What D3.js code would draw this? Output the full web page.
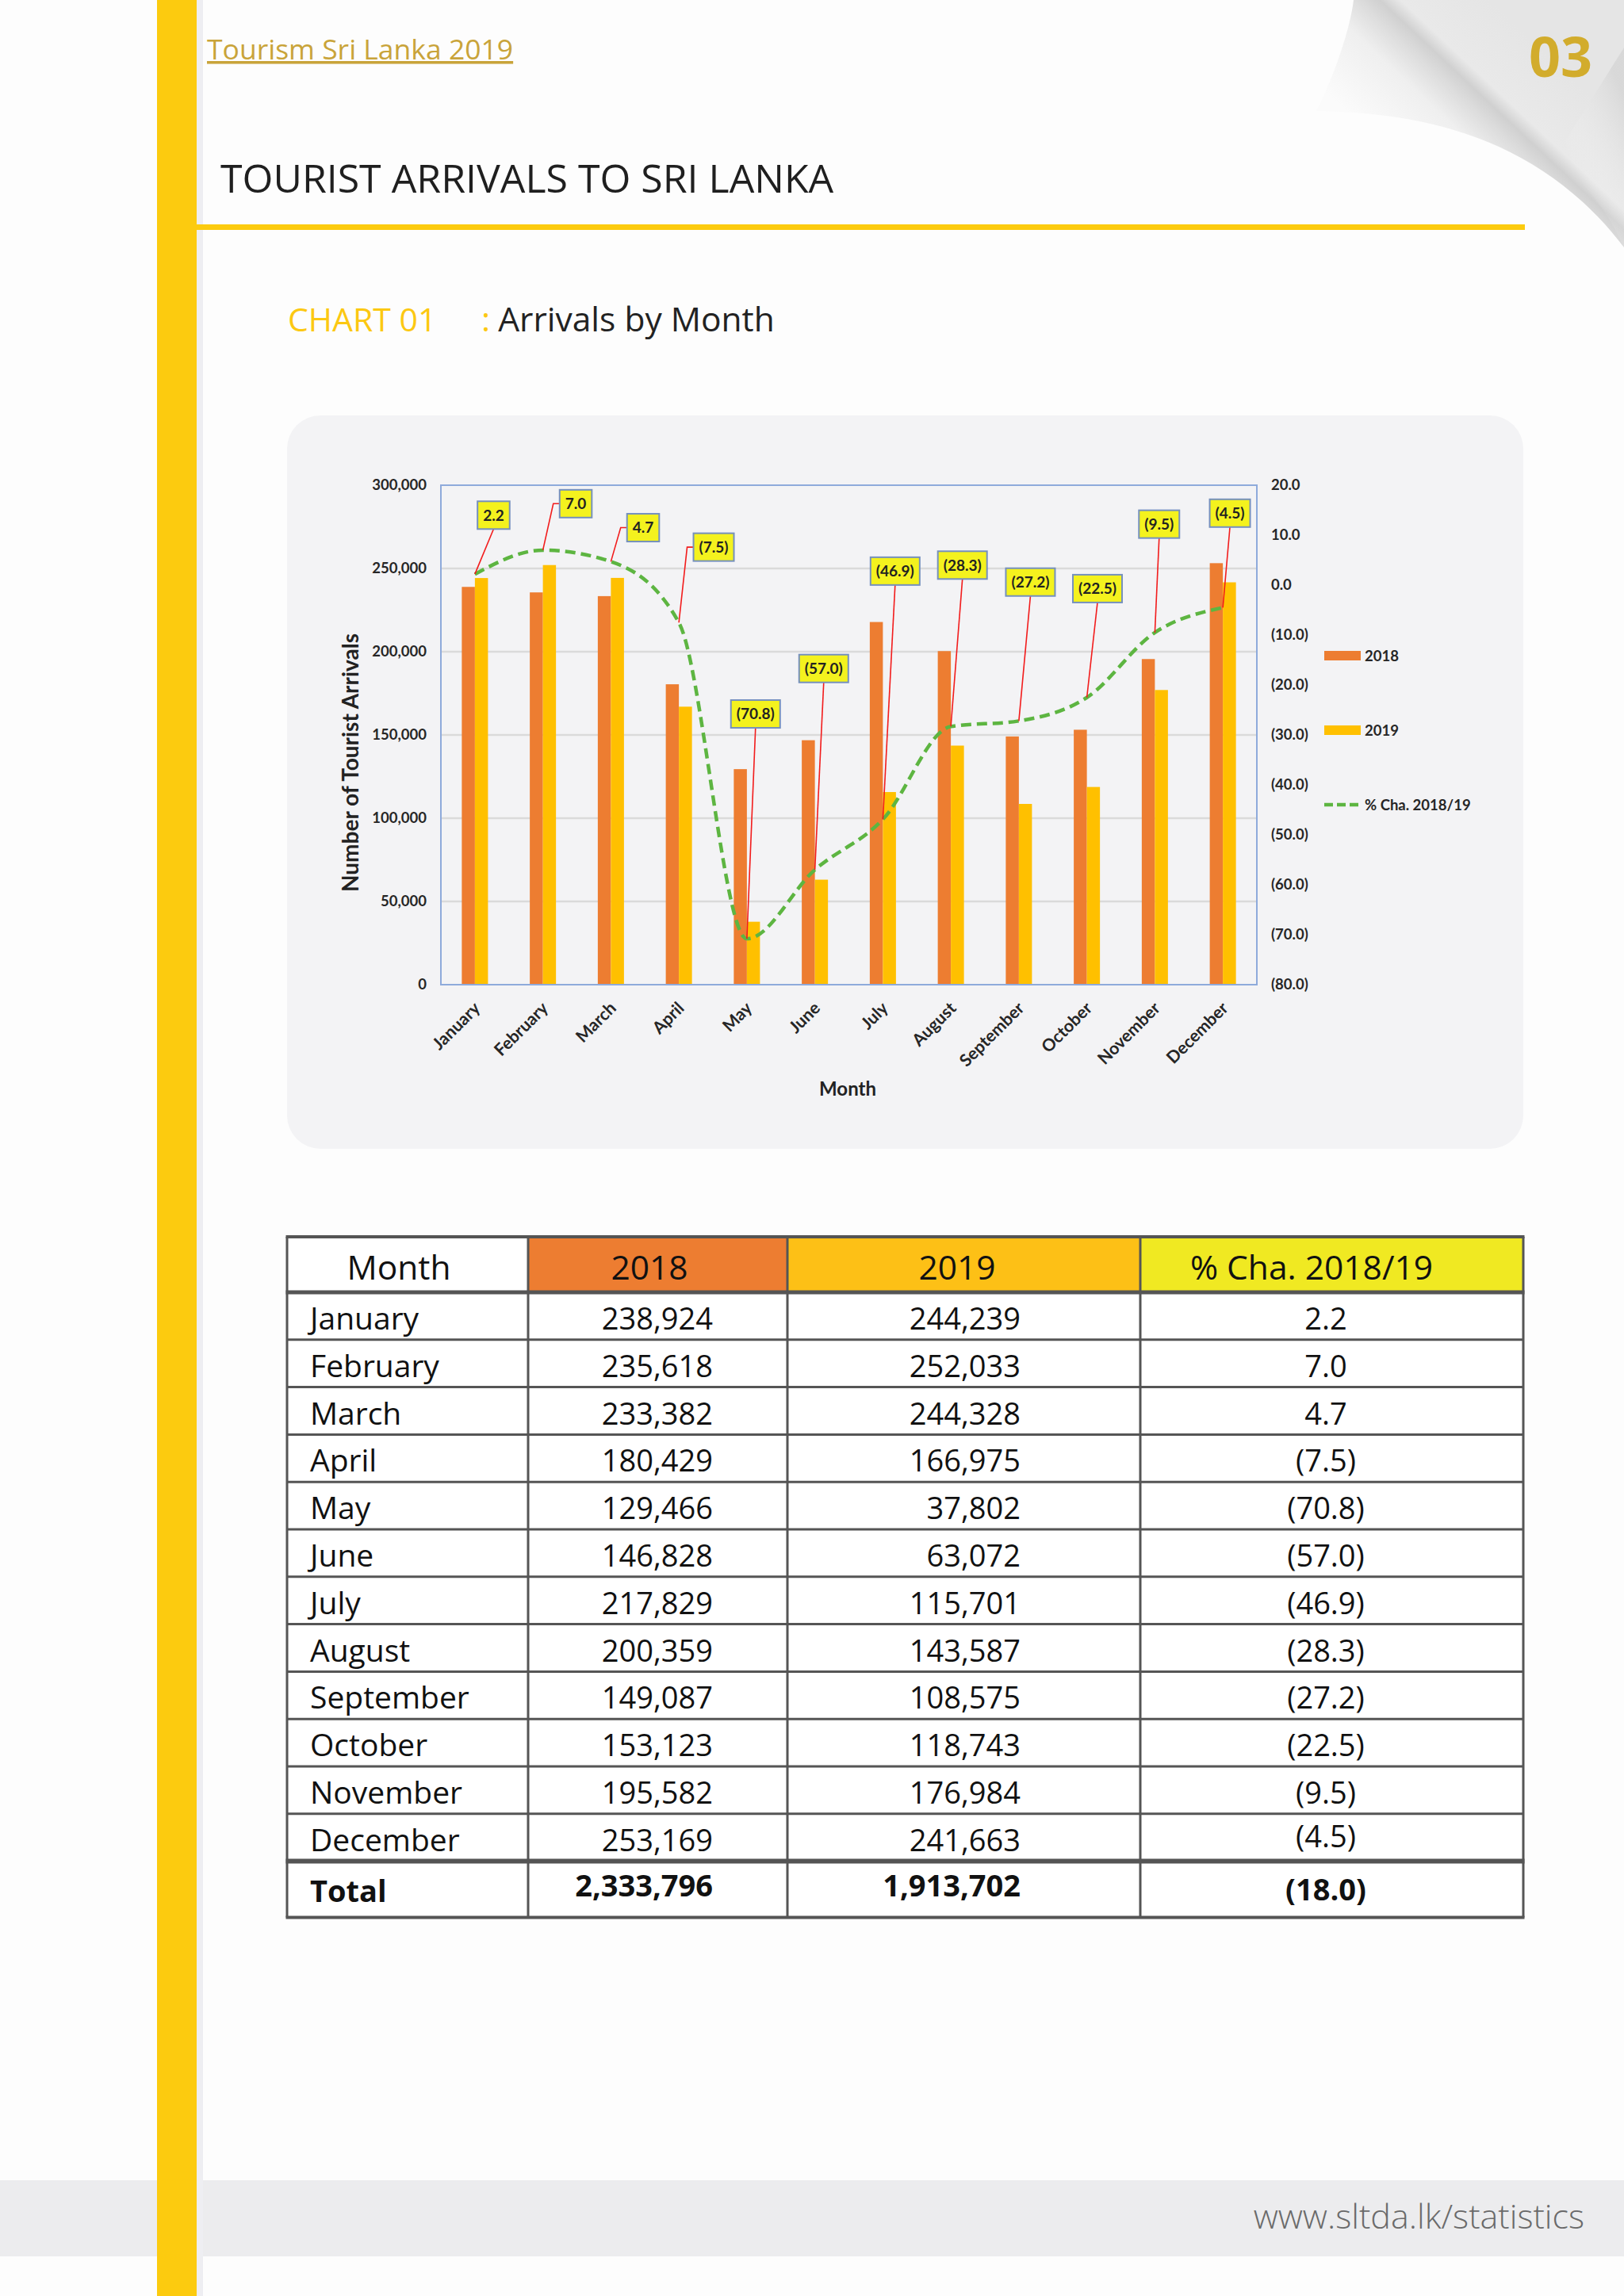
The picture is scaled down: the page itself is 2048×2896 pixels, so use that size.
<!DOCTYPE html>
<html><head><meta charset="utf-8">
<script src="https://cdn.jsdelivr.net/npm/d3@7"></script>
<style>
html,body{margin:0;padding:0;background:#fdfdfd;}
svg{display:block;}
</style></head><body>
<svg id="page" width="2048" height="2896"></svg>
<script>
// ---------------- DATA ----------------
const months = ["January","February","March","April","May","June","July","August","September","October","November","December"];
const series = ["2018","2019"];
const arrivals2018 = [238924,235618,233382,180429,129466,146828,217829,200359,149087,153123,195582,253169];
const arrivals2019 = [244239,252033,244328,166975,37802,63072,115701,143587,108575,118743,176984,241663];
const pctChange = [2.2,7.0,4.7,-7.5,-70.8,-57.0,-46.9,-28.3,-27.2,-22.5,-9.5,-4.5];
const leftTicks = [0,50000,100000,150000,200000,250000,300000];
const rightTicks = [20,10,0,-10,-20,-30,-40,-50,-60,-70,-80];
const lineName = "% Cha. 2018/19";
const tableHeader = ["Month","2018","2019","% Cha. 2018/19"];

// label placement (band offset fraction, % axis value) as set in the original chart
const labelBandOffset = [0.275,0.483,0.474,0.512,0.127,0.13,0.18,0.17,0.17,0.156,0.063,0.104];
const labelPctPos = [14.0,16.3,11.5,7.6,-25.8,-16.7,2.8,4.0,0.6,-0.7,12.2,14.4];

// ---------------- HELPERS ----------------
const svg = d3.select("#page");
const fmtPct = v => v < 0 ? "(" + (-v).toFixed(1) + ")" : v.toFixed(1);
const fmtNum = d3.format(",");
const C18 = "#ED7D31", C19 = "#FFC000", CLINE = "#5DB541";
const chartFont = "Lato, 'Open Sans', sans-serif";
const pageFont = "'Open Sans', 'Noto Sans', sans-serif";

// ---------------- PAGE DECOR ----------------
svg.append("rect").attr("width",2048).attr("height",2896).attr("fill","#fdfdfd");
// footer band
svg.append("rect").attr("x",0).attr("y",2750).attr("width",2048).attr("height",96).attr("fill","#ececee");
svg.append("text").attr("x",1998).attr("y",2811).attr("text-anchor","end")
  .attr("font-family",pageFont).attr("font-size",43).attr("font-weight",300).attr("fill","#6a6a6a")
  .text("www.sltda.lk/statistics");
// yellow vertical bar with faint shadow
svg.append("rect").attr("x",248).attr("y",0).attr("width",8).attr("height",2896).attr("fill","#eeeef2");
svg.append("rect").attr("x",198).attr("y",0).attr("width",50).attr("height",2896).attr("fill","#FCCB0F");

// page curl
const defs = svg.append("defs");
const g1 = defs.append("linearGradient").attr("id","curlG").attr("gradientUnits","userSpaceOnUse")
  .attr("x1",1745).attr("y1",185).attr("x2",1900).attr("y2",20);
[[0,"#fbfbfb"],[0.35,"#efefef"],[0.5,"#dcdcdc"],[0.58,"#d0d0d0"],[0.66,"#e9e9e9"],[1,"#e5e5e5"]]
  .forEach(s=>g1.append("stop").attr("offset",s[0]).attr("stop-color",s[1]));
const g2 = defs.append("linearGradient").attr("id","curlEdge").attr("gradientUnits","userSpaceOnUse")
  .attr("x1",1960).attr("y1",160).attr("x2",2048).attr("y2",120);
[[0,"#ffffff",0],[1,"#d0d0d0",0.6]].forEach(s=>g2.append("stop").attr("offset",s[0]).attr("stop-color",s[1]).attr("stop-opacity",s[2]));
svg.append("path").attr("d","M1707,0 C1703,35 1683,95 1660,140 C1790,142 1940,170 2048,312 L2048,0 Z").attr("fill","url(#curlG)");
svg.append("path").attr("d","M1960,200 C1995,225 2025,262 2048,312 L2048,60 Z").attr("fill","url(#curlEdge)");

svg.append("text").attr("x",2008).attr("y",97).attr("text-anchor","end")
  .attr("font-family",pageFont).attr("font-size",70).attr("font-weight",700).attr("fill","#D2AC2C").text("03");

// header
svg.append("text").attr("x",261).attr("y",75).attr("font-family",pageFont).attr("font-size",35.5)
  .attr("fill","#c9a43a").attr("text-decoration","underline").text("Tourism Sri Lanka 2019");
svg.append("text").attr("x",278).attr("y",243).attr("font-family",pageFont).attr("font-size",50)
  .attr("font-weight",500).attr("fill","#1f1f1f").text("TOURIST ARRIVALS TO SRI LANKA");
svg.append("rect").attr("x",248).attr("y",283).attr("width",1675).attr("height",7).attr("fill","#FCCB0F");
svg.append("text").attr("x",363).attr("y",418).attr("font-family",pageFont).attr("font-size",41)
  .attr("fill","#FCC812").text("CHART 01");
const sub = svg.append("text").attr("x",607).attr("y",418).attr("font-family",pageFont).attr("font-size",42.5)
  .attr("font-weight",500).attr("fill","#222");
sub.append("tspan").attr("fill","#FCC812").text(":");
sub.append("tspan").attr("dx",10).text("Arrivals by Month");

// ---------------- CHART ----------------
svg.append("rect").attr("x",362).attr("y",524).attr("width",1559).attr("height",925).attr("rx",42).attr("fill","#f3f3f5");

const plot = {l:556, r:1585, t:612, b:1242};
const x = d3.scaleBand().domain(months).range([plot.l, plot.r]);
const bw = x.bandwidth();
const xs = d3.scaleBand().domain(series).range([-16.5,16.5]);
const yL = d3.scaleLinear().domain([0,300000]).range([plot.b, plot.t]);
const yR = d3.scaleLinear().domain([-80,20]).range([plot.b, plot.t]);
const cx = m => x(m) + bw/2;

const chart = svg.append("g");
// gridlines
chart.append("g").selectAll("line").data(leftTicks.filter(d=>d>0 && d<300000)).join("line")
  .attr("x1",plot.l).attr("x2",plot.r).attr("y1",d=>yL(d)).attr("y2",d=>yL(d))
  .attr("stroke","#dadada").attr("stroke-width",2.5);

// bars
const barData = months.map((m,i)=>[{m,s:"2018",v:arrivals2018[i]},{m,s:"2019",v:arrivals2019[i]}]).flat();
chart.append("g").selectAll("rect").data(barData).join("rect")
  .attr("x",d=>cx(d.m)+xs(d.s)).attr("width",xs.bandwidth())
  .attr("y",d=>yL(d.v)).attr("height",d=>yL(0)-yL(d.v))
  .attr("fill",d=>d.s==="2018"?C18:C19);

// plot border
chart.append("rect").attr("x",plot.l).attr("y",plot.t).attr("width",plot.r-plot.l).attr("height",plot.b-plot.t)
  .attr("fill","none").attr("stroke","#8eaadb").attr("stroke-width",2);

// axes
const axL = chart.append("g").attr("transform",`translate(${plot.l},0)`)
  .call(d3.axisLeft(yL).tickValues(leftTicks).tickSize(0).tickPadding(18).tickFormat(fmtNum));
const axR = chart.append("g").attr("transform",`translate(${plot.r},0)`)
  .call(d3.axisRight(yR).tickValues(rightTicks).tickSize(0).tickPadding(18).tickFormat(fmtPct));
const axB = chart.append("g").attr("transform",`translate(0,${plot.b})`)
  .call(d3.axisBottom(x).tickSize(0));
[axL,axR,axB].forEach(a=>{a.select(".domain").remove();
  a.selectAll("text").attr("font-family",chartFont).attr("font-size",18.5).attr("font-weight",700).attr("fill","#262626");});
axB.selectAll(".tick text").attr("x",0).attr("y",0).attr("dy",0).attr("text-anchor","end")
  .attr("transform","translate(8,31) rotate(-45)").attr("font-size",21.5);

// axis titles
chart.append("text").attr("transform","translate(452,962) rotate(-90)").attr("text-anchor","middle")
  .attr("font-family",chartFont).attr("font-size",28).attr("font-weight",700).attr("fill","#222")
  .text("Number of Tourist Arrivals");
chart.append("text").attr("x",1069).attr("y",1382).attr("text-anchor","middle")
  .attr("font-family",chartFont).attr("font-size",24).attr("font-weight",700).attr("fill","#222").text("Month");

// line
const lineGen = d3.line().x((d,i)=>cx(months[i])).y(d=>yR(d)).curve(d3.curveMonotoneX);
chart.append("path").datum(pctChange).attr("d",lineGen).attr("fill","none")
  .attr("stroke",CLINE).attr("stroke-width",4.5).attr("stroke-dasharray","13,7");

// data labels with leaders
const lab = chart.append("g");
const labelData = months.map((m,i)=>({m, v:pctChange[i], px:cx(m), py:yR(pctChange[i]),
  lx:cx(m)+labelBandOffset[i]*bw, ly:yR(labelPctPos[i])}));
const leaderG = lab.append("g"), boxG = lab.append("g");
labelData.forEach(d=>{
  const g = boxG.append("g");
  const rect = g.append("rect");
  const t = g.append("text").attr("x",d.lx).attr("y",d.ly).attr("dy","0.36em").attr("text-anchor","middle")
    .attr("font-family",chartFont).attr("font-size",19).attr("font-weight",700).attr("fill","#222").text(fmtPct(d.v));
  const w = t.node().getComputedTextLength() + 14, h = 35;
  const left = d.lx - w/2;
  rect.attr("x",left).attr("y",d.ly-h/2).attr("width",w).attr("height",h)
    .attr("fill","#F4F21E").attr("stroke","#7590bd").attr("stroke-width",2);
  let pts;
  if (d.px < left - 5) pts = [[d.px,d.py],[left-8,d.ly],[left,d.ly]];
  else pts = [[d.px,d.py],[d.lx,d.ly+h/2]];
  leaderG.append("path").attr("d",d3.line()(pts)).attr("fill","none").attr("stroke","#f21c1c").attr("stroke-width",1.6);
});

// legend
const leg = chart.append("g");
const legItems = [{k:"2018",y:827},{k:"2019",y:921},{k:lineName,y:1015}];
legItems.forEach(it=>{
  if (it.k===lineName) leg.append("line").attr("x1",1670).attr("x2",1716).attr("y1",it.y).attr("y2",it.y)
    .attr("stroke",CLINE).attr("stroke-width",4.5).attr("stroke-dasharray","11,5");
  else leg.append("rect").attr("x",1670).attr("y",it.y-6).attr("width",46).attr("height",12).attr("fill",it.k==="2018"?C18:C19);
  leg.append("text").attr("x",1721).attr("y",it.y).attr("dy","0.36em").attr("font-family",chartFont)
    .attr("font-size",18.5).attr("font-weight",700).attr("fill","#262626").text(it.k);
});

// ---------------- TABLE ----------------
const colX = [362,666,993,1438,1921];
const headTop = 1560, headBot = 1630, rowH = 59.8, totTop = headBot + rowH*12, totBot = totTop + 71;
const headFill = ["#ffffff", C18, "#FDC016", "#F0E922"];
const headCenter = [503, 819, 1207, 1654];
const tbl = svg.append("g").attr("font-family",pageFont);
tbl.append("rect").attr("x",colX[0]).attr("y",headTop).attr("width",colX[4]-colX[0]).attr("height",totBot-headTop).attr("fill","#ffffff");
tableHeader.forEach((h,i)=>{
  tbl.append("rect").attr("x",colX[i]).attr("y",headTop).attr("width",colX[i+1]-colX[i]).attr("height",headBot-headTop).attr("fill",headFill[i]);
  tbl.append("text").attr("x",headCenter[i]).attr("y",1614).attr("text-anchor","middle")
    .attr("font-size",42.5).attr("font-weight",500).attr("fill","#111").text(h);
});
const rows = months.map((m,i)=>[m, fmtNum(arrivals2018[i]), fmtNum(arrivals2019[i]), fmtPct(pctChange[i])]);
const sum18 = d3.sum(arrivals2018), sum19 = d3.sum(arrivals2019);
const totalRow = ["Total", fmtNum(sum18), fmtNum(sum19), fmtPct(Math.round((sum19/sum18-1)*1000)/10)];
const cellX = [391, 899, 1287, 1672];
const anchors = ["start","end","end","middle"];
rows.forEach((r,ri)=>{
  const base = headBot + ri*rowH + 47;
  r.forEach((c,ci)=>{
    tbl.append("text").attr("x",cellX[ci]).attr("y",base - (ri===11&&ci===3?5:0)).attr("text-anchor",anchors[ci])
      .attr("font-size",ci===0?39:38).attr("font-weight",ci===0?500:400).attr("fill","#111").text(c);
  });
});
totalRow.forEach((c,ci)=>{
  tbl.append("text").attr("x",cellX[ci]).attr("y",ci===0?2399:(ci===3?2397:2392)).attr("text-anchor",anchors[ci])
    .attr("font-size",38).attr("font-weight",700).attr("fill","#111").text(c);
});
// grid lines
const lc = "#555";
for (let i=1;i<12;i++) tbl.append("line").attr("x1",colX[0]).attr("x2",colX[4])
  .attr("y1",headBot+i*rowH).attr("y2",headBot+i*rowH).attr("stroke",lc).attr("stroke-width",3);
colX.forEach(cxv=>tbl.append("line").attr("x1",cxv).attr("x2",cxv).attr("y1",headTop).attr("y2",totBot).attr("stroke",lc).attr("stroke-width",3));
[[headTop,4],[headBot,5],[totTop,6],[totBot,4]].forEach(([yy,sw])=>tbl.append("line").attr("x1",colX[0]-1.5).attr("x2",colX[4]+1.5)
  .attr("y1",yy).attr("y2",yy).attr("stroke",lc).attr("stroke-width",sw));
</script>
</body></html>
